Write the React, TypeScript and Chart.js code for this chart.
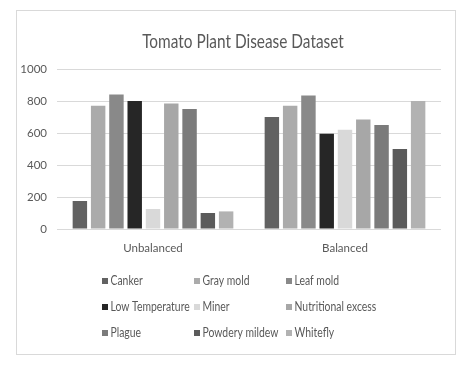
import React, { useEffect, useRef } from "react";
import { Chart, registerables } from "chart.js";

Chart.register(...registerables);

const categories = ["Unbalanced", "Balanced"];
const diseases = [
  "Canker",
  "Gray mold",
  "Leaf mold",
  "Low Temperature",
  "Miner",
  "Nutritional excess",
  "Plague",
  "Powdery mildew",
  "Whitefly",
];
const unbalancedValues = [175, 770, 840, 800, 125, 785, 750, 100, 110];
const balancedValues = [700, 770, 835, 595, 620, 685, 650, 500, 800];
const seriesColors = [
  "#626262",
  "#ababab",
  "#898989",
  "#262626",
  "#d9d9d9",
  "#a7a7a7",
  "#7b7b7b",
  "#5b5b5b",
  "#b2b2b2",
];
const titleText = "Tomato Plant Disease Dataset";
const yMin = 0;
const yMax = 1000;
const yStep = 200;

const FONT = "Lato, 'Liberation Sans', sans-serif";
const TEXT = "#595959";
const SQUEEZE = 0.77;

const framePlugin = {
  id: "frame",
  beforeDraw(chart: any) {
    const ctx = chart.ctx;
    ctx.save();
    ctx.fillStyle = "#ffffff";
    ctx.fillRect(0, 0, chart.width, chart.height);
    ctx.strokeStyle = "#d9d9d9";
    ctx.lineWidth = 1;
    ctx.strokeRect(16.5, 10.5, 439, 344);
    ctx.restore();
  },
};

function squeezedText(ctx: any, text: string, x: number, y: number, align: string) {
  ctx.save();
  ctx.translate(x, y);
  ctx.scale(SQUEEZE, 1);
  ctx.textAlign = align;
  ctx.fillText(text, 0, 0);
  ctx.restore();
}

const titleAndLegendPlugin = {
  id: "titleAndLegend",
  afterDraw(chart: any) {
    const ctx = chart.ctx;
    ctx.save();
    ctx.fillStyle = TEXT;
    ctx.textBaseline = "middle";
    ctx.font = `20px ${FONT}`;
    squeezedText(ctx, chart.options.plugins.customTitle.text, 243, 42, "center");

    const ds = chart.data.datasets;
    const colX = [102, 194, 286];
    const rowY = [281, 307, 333];
    ctx.font = `13.5px ${FONT}`;
    ds.forEach((d: any, i: number) => {
      const x = colX[i % 3];
      const y = rowY[Math.floor(i / 3)];
      ctx.fillStyle = d.backgroundColor;
      ctx.fillRect(x, y - 3, 6, 6);
      ctx.fillStyle = TEXT;
      squeezedText(ctx, d.label, x + 8.5, y, "left");
    });
    ctx.restore();
  },
};

export default function App() {
  const ref = useRef<HTMLCanvasElement | null>(null);
  useEffect(() => {
    document.body.style.margin = "0";
    const datasets = diseases.map((name, i) => ({
      label: name,
      data: [unbalancedValues[i], balancedValues[i]],
      backgroundColor: seriesColors[i],
      borderWidth: 0,
      categoryPercentage: 0.857,
      barPercentage: 0.79,
    }));
    const chart = new Chart(ref.current as HTMLCanvasElement, {
      type: "bar",
      data: { labels: categories, datasets },
      options: {
        animation: false,
        responsive: false,
        maintainAspectRatio: false,
        layout: { padding: { left: 0, right: 33, top: 69, bottom: 107 } },
        plugins: {
          legend: { display: false },
          tooltip: { enabled: false },
          title: { display: false },
          customTitle: { text: titleText },
        } as any,
        scales: {
          x: {
            grid: { display: false, drawTicks: false },
            border: { display: false },
            ticks: { color: TEXT, font: { family: FONT, size: 11.5 }, padding: 12 },
            afterFit(scale: any) {
              scale.height = 31;
            },
          },
          y: {
            min: yMin,
            max: yMax,
            grid: { color: "#d9d9d9", drawTicks: false, lineWidth: 1 },
            border: { display: false },
            ticks: {
              stepSize: yStep,
              color: TEXT,
              font: { family: FONT, size: 11.5 },
              padding: 10,
              callback: (v: any) => String(v),
            },
            afterFit(scale: any) {
              scale.width = 57;
            },
          },
        },
      },
      plugins: [framePlugin, titleAndLegendPlugin],
    });
    return () => chart.destroy();
  }, []);
  return (
    <div style={{ width: 474, height: 367 }}>
      <canvas ref={ref} width={474} height={367} style={{ display: "block" }} />
    </div>
  );
}
